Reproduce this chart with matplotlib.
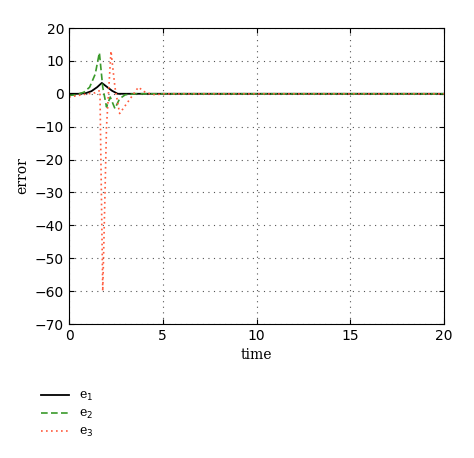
import matplotlib
matplotlib.use("Agg")
import matplotlib.pyplot as plt

t1 = [0, 0.5, 0.9, 1.2, 1.5, 1.75, 2.0, 2.3, 2.6, 3.0, 20]
e1 = [0, 0, 0.2, 0.8, 2.0, 3.3, 2.2, 0.9, 0, 0, 0]
t2 = [0, 0.4, 0.8, 1.1, 1.4, 1.62, 1.8, 2.0, 2.2, 2.45, 2.7, 3.0, 3.5, 20]
e2 = [-0.5, -0.3, 0.5, 2.0, 6.0, 12.5, 2.0, -4.0, -1.0, -4.5, -1.5, -0.3, 0, 0]
t3 = [0, 0.5, 1.0, 1.4, 1.65, 1.8, 2.0, 2.24, 2.45, 2.7, 3.2, 3.7, 4.1, 4.6, 5.0, 20]
e3 = [-1.0, -0.5, 0, 0.3, 1.0, -60, -10, 13, 2, -6, -2, 2, 0.3, -0.3, 0, 0]

fig = plt.figure(figsize=(4.74, 4.58), dpi=100)
ax = fig.add_axes([69/474, 1-324/458, 375/474, 296/458])
ax.plot(t1, e1, color='black', lw=1.3, label='e$_1$')
ax.plot(t2, e2, color='#3a9a2a', lw=1.2, ls=(0, (4, 2)), label='e$_2$')
ax.plot(t3, e3, color='#ff5a3c', lw=1.2, ls=(0, (1, 2)), label='e$_3$')
ax.set_xlim(0, 20)
ax.set_ylim(-70, 20)
ax.set_xticks(range(0, 21, 5))
ax.set_yticks(range(-70, 21, 10))
ax.grid(True, ls=(0, (1, 4)), color='#555555', lw=0.8)
ax.tick_params(direction='in', labelsize=10, top=True, right=True)
for lab in ax.get_xticklabels() + ax.get_yticklabels():
    lab.set_fontfamily('DejaVu Sans')
ax.set_xlabel('time', fontfamily='DejaVu Serif', fontsize=10)
ax.set_ylabel('error', fontfamily='DejaVu Serif', fontsize=10)
h, l = ax.get_legend_handles_labels()
fig.legend(h, l, loc='upper left', bbox_to_anchor=(30/474, 1-378/458), frameon=False,
           prop={'family': 'DejaVu Serif', 'size': 9}, handlelength=2.2, labelspacing=0.3)
fig.savefig('out.png', dpi=100)
